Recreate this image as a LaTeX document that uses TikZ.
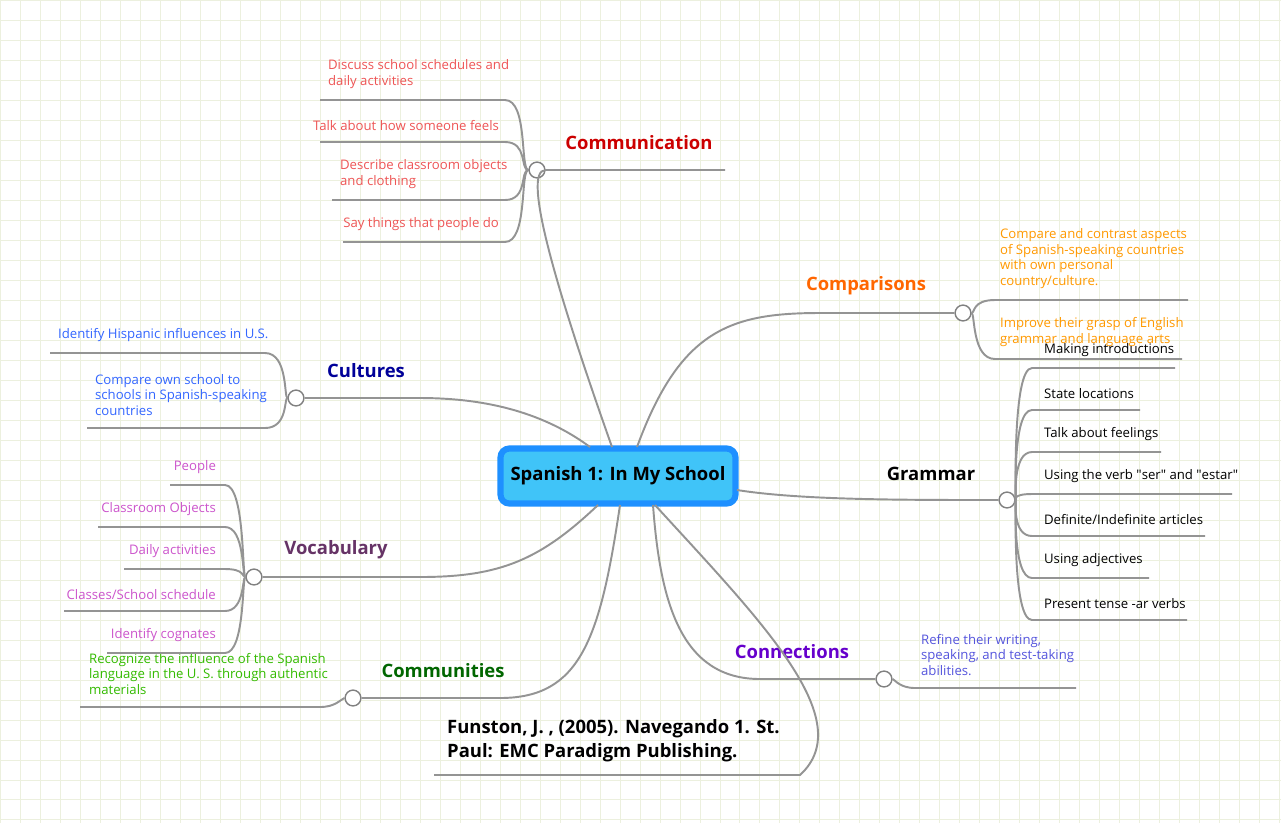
\documentclass[tikz,border=0pt]{standalone}
\usepackage{fontspec}
\setmainfont{Open Sans}
\usetikzlibrary{positioning}
\definecolor{commc}{HTML}{CC0000}
\definecolor{commt}{HTML}{EE5555}
\definecolor{compc}{HTML}{FF6600}
\definecolor{compt}{HTML}{FF9900}
\definecolor{cultc}{HTML}{000099}
\definecolor{cultt}{HTML}{3366FF}
\definecolor{vocc}{HTML}{663366}
\definecolor{voct}{HTML}{CC55CC}
\definecolor{commuc}{HTML}{006600}
\definecolor{commut}{HTML}{33BB00}
\definecolor{connc}{HTML}{6600CC}
\definecolor{connt}{HTML}{5555DD}
\tikzset{
  branch/.style={draw=black!42, line width=1.1pt},
  knob/.style={circle, draw=black!50, fill=white, line width=0.8pt, inner sep=0pt, minimum size=9pt},
  topic/.style={font=\fontsize{10.5}{13}\selectfont\bfseries},
  item/.style={font=\fontsize{7.5}{9}\selectfont, align=left, inner sep=1pt}
}
\begin{document}
\begin{tikzpicture}[x=0.02cm, y=-0.02cm]
  \useasboundingbox (0,0) rectangle (1281,823);
  \fill[white] (0,0) rectangle (1281,823);
  \draw[step=0.4cm, color={rgb,255:red,236;green,240;blue,222}, line width=0.4pt] (0,0) grid (1281,823);

  % center
  \node[draw={rgb,255:red,30;green,144;blue,255}, fill={rgb,255:red,64;green,196;blue,248}, line width=3.5pt,
        rounded corners=5pt, minimum width=4.7cm, minimum height=1.1cm,
        font=\fontsize{10.5}{13}\selectfont\bfseries] (root) at (618,476) {Spanish 1: In My School};

  % Communication
  \node[knob] (comm) at (537,170) {};
  \coordinate (commend) at (725,170);
  \node[topic, text=commc] (commlab) at (639,143) {Communication};
  \draw[branch] (612,447) .. controls (560,300) and (520,170) .. (comm.east) -- (commend);
  \foreach \y/\x in {100/320, 142/320, 200/332, 242/343}
    \draw[branch] (comm.west) .. controls (520,170) and (528,\y) .. (505,\y) -- (\x,\y);
  \node[item, text=commt, anchor=south west] (c1) at (326,91) {Discuss school schedules and\\daily activities};
  \node[item, text=commt, anchor=south east] (c2) at (501,133) {Talk about how someone feels};
  \node[item, text=commt, anchor=south west] (c3) at (338,191) {Describe classroom objects\\and clothing};
  \node[item, text=commt, anchor=south east] (c4) at (501,233) {Say things that people do};

  % Comparisons
  \node[knob] (comp) at (963,313) {};
  \node[topic, text=compc] (complab) at (866,286) {Comparisons};
  \draw[branch] (637,447) .. controls (680,330) and (730,313) .. (820,313) -- (comp.west);
  \draw[branch] (comp.east) .. controls (975,313) and (972,300) .. (995,300) -- (1188,300);
  \draw[branch] (comp.east) .. controls (975,313) and (972,359) .. (995,359) -- (1182,359);
  \node[item, text=compt, anchor=south west] (p1) at (998,291) {Compare and contrast aspects\\of Spanish-speaking countries\\with own personal\\country/culture.};
  \node[item, text=compt, anchor=south west] (p2) at (998,349) {Improve their grasp of English\\grammar and language arts};

  % Grammar
  \node[knob] (gram) at (1007,500) {};
  \node[topic, text=black] (gramlab) at (931,474) {Grammar};
  \draw[branch] (737,490) .. controls (800,500) and (900,500) .. (gram.west);
  \foreach \y/\x/\t in {368/1175/{Making introductions}, 410/1140/{State locations}, 452/1161/{Talk about feelings},
      494/1232/{Using the verb \textquotedbl ser\textquotedbl\ and \textquotedbl estar\textquotedbl}, 536/1205/{Definite/Indefinite articles},
      578/1149/{Using adjectives}, 620/1187/{Present tense -ar verbs}} {
    \draw[branch] (gram.east) .. controls (1016,500) and (1012,\y) .. (1032,\y) -- (\x,\y);
    \node[item, anchor=south west] at (1042,\y-9) {\t};
  }

  % Connections
  \node[knob] (conn) at (884,679) {};
  \node[topic, text=connc] (connlab) at (792,652) {Connections};
  \draw[branch] (653,505) .. controls (660,600) and (680,679) .. (760,679) -- (conn.west);
  \draw[branch] (conn.east) .. controls (895,680) and (900,688) .. (915,688) -- (1076,688);
  \node[item, text=connt, anchor=south west] (n1) at (919,678) {Refine their writing,\\speaking, and test-taking\\abilities.};

  % Reference
  \coordinate (refend) at (434,775);
  \draw[branch] (655,505) .. controls (760,620) and (860,720) .. (800,775) -- (refend);
  \node[font=\fontsize{10.5}{14}\selectfont\bfseries, align=left, anchor=north west] (reflab) at (441,713)
    {Funston, J. , (2005). Navegando 1. St.\\Paul: EMC Paradigm Publishing.};

  % Communities
  \node[knob] (commu) at (353,698) {};
  \node[topic, text=commuc] (commulab) at (443,671) {Communities};
  \draw[branch] (620,505) .. controls (600,640) and (580,698) .. (500,698) -- (commu.east);
  \draw[branch] (commu.west) .. controls (340,700) and (335,707) .. (320,707) -- (80,707);
  \node[item, text=commut, anchor=south west] (m1) at (87,697) {Recognize the influence of the Spanish\\language in the U. S. through authentic\\materials};

  % Vocabulary
  \node[knob] (voc) at (254,577) {};
  \node[topic, text=vocc] (voclab) at (336,550) {Vocabulary};
  \draw[branch] (598,505) .. controls (540,560) and (500,577) .. (420,577) -- (voc.east);
  \foreach \y/\x/\t in {485/170/{People}, 527/98/{Classroom Objects}, 569/124/{Daily activities},
      611/64/{Classes/School schedule}, 653/107/{Identify cognates}} {
    \draw[branch] (voc.west) .. controls (242,577) and (245,\y) .. (225,\y) -- (\x,\y);
    \node[item, text=voct, anchor=south east] at (218,\y-9) {\t};
  }

  % Cultures
  \node[knob] (cult) at (296,398) {};
  \node[topic, text=cultc] (cultlab) at (366,371) {Cultures};
  \draw[branch] (590,447) .. controls (540,410) and (480,398) .. (420,398) -- (cult.east);
  \draw[branch] (cult.west) .. controls (284,398) and (288,353) .. (265,353) -- (50,353);
  \draw[branch] (cult.west) .. controls (284,398) and (288,428) .. (265,428) -- (87,428);
  \node[item, text=cultt, anchor=south west] (u1) at (56,344) {Identify Hispanic influences in U.S.};
  \node[item, text=cultt, anchor=south west] (u2) at (93,418) {Compare own school to\\schools in Spanish-speaking\\countries};
\end{tikzpicture}
\end{document}
